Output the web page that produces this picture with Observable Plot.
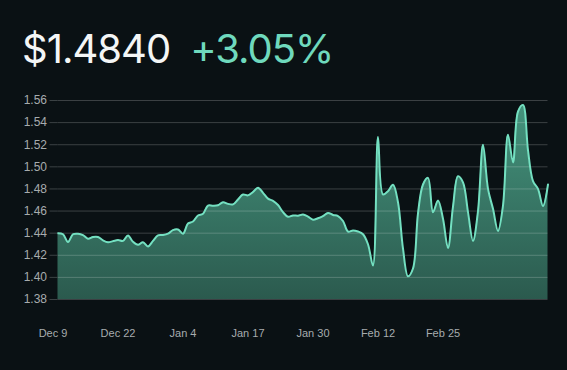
<!DOCTYPE html>
<html><head><meta charset="utf-8">
<script src="https://cdn.jsdelivr.net/npm/d3@7"></script>
<script src="https://cdn.jsdelivr.net/npm/@observablehq/plot@0.6"></script>
<style>
html,body{margin:0;padding:0;background:#0a1114;}
#wrap{position:relative;width:567px;height:370px;overflow:hidden;background:#0a1114;}
#title{position:absolute;left:22px;top:29px;font-family:Inter,"Noto Sans",sans-serif;font-size:40px;line-height:40px;letter-spacing:-1px;white-space:nowrap;}
#price{color:#f4f6f6;}
#change{color:#6fd9bd;margin-left:20px;}
svg{display:block;}
</style></head>
<body>
<div id="wrap"><div id="title"><span id="price"></span><span id="change"></span></div></div>
<script>
const headlinePrice = "$1.4840";
const headlineChange = "+3.05%";
const startDate = "2024-12-10";
const prices = [
 1.4400,1.4390,1.4320,1.4390,1.4395,1.4383,1.4350,1.4365,1.4365,1.4335,
 1.4318,1.4328,1.4338,1.4330,1.4380,1.4322,1.4295,1.4318,1.4280,1.4330,
 1.4380,1.4383,1.4395,1.4428,1.4433,1.4395,1.4487,1.4505,1.4560,1.4575,
 1.4650,1.4648,1.4652,1.4680,1.4665,1.4660,1.4705,1.4750,1.4742,1.4772,
 1.4810,1.4765,1.4712,1.4693,1.4655,1.4590,1.4548,1.4560,1.4558,1.4568,
 1.4550,1.4522,1.4535,1.4555,1.4583,1.4565,1.4555,1.4510,1.4415,1.4425,
 1.4415,1.4390,1.4300,1.4108,1.5270,1.4750,1.4780,1.4838,1.4680,1.4260,
 1.4010,1.4080,1.4580,1.4840,1.4900,1.4590,1.4695,1.4530,1.4265,1.4640,
 1.4915,1.4860,1.4590,1.4330,1.4600,1.5200,1.4800,1.4620,1.4420,1.4650,
 1.5290,1.5040,1.5500,1.5560,1.5150,1.4870,1.4800,1.4645,1.4840
];
const yTicks = [1.38,1.40,1.42,1.44,1.46,1.48,1.50,1.52,1.54,1.56];
const xTickDates = ["2024-12-09","2024-12-22","2025-01-04","2025-01-17","2025-01-30","2025-02-12","2025-02-25"];

document.getElementById("price").textContent = headlinePrice;
document.getElementById("change").textContent = headlineChange;

const start = new Date(startDate + "T00:00:00Z");
const data = prices.map((p, i) => ({date: d3.utcDay.offset(start, i), price: p}));
const xTicks = xTickDates.map(s => new Date(s + "T00:00:00Z"));
const yMin = yTicks[0];

const chart = Plot.plot({
  width: 567,
  height: 370,
  marginTop: 100,
  marginBottom: 71,
  marginLeft: 57.5,
  marginRight: 19.5,
  style: {background: "transparent", fontFamily: "'Liberation Sans', Arial, sans-serif"},
  x: {type: "utc", domain: [data[0].date, data[data.length - 1].date]},
  y: {domain: [yTicks[0], yTicks[yTicks.length - 1]]},
  marks: [
    Plot.areaY(data, {x: "date", y1: yMin, y2: "price", fill: "url(#areaGrad)", curve: "catmull-rom"}),
    Plot.gridY(yTicks, {stroke: "#ffffff", strokeOpacity: 0.2, strokeWidth: 1}),
    Plot.lineY(data, {x: "date", y: "price", stroke: "#74e0c1", strokeWidth: 2, curve: "catmull-rom"}),
    Plot.axisY(yTicks, {tickSize: 8, tickPadding: 3, tickFormat: d3.format(".2f"), stroke: "#3b4244", fill: "#a7acae", fontSize: 12, label: null}),
    Plot.axisX(xTicks, {tickSize: 0, tickPadding: 29.5, tickFormat: d3.utcFormat("%b %-d"), fill: "#a7acae", fontSize: 11, label: null})
  ]
});

const svg = d3.select(chart);
const defs = svg.insert("defs", ":first-child");
const g = defs.append("linearGradient").attr("id", "areaGrad")
  .attr("gradientUnits", "userSpaceOnUse").attr("x1", 0).attr("x2", 0).attr("y1", 100).attr("y2", 299);
g.append("stop").attr("offset", "0%").attr("stop-color", "#45957e");
g.append("stop").attr("offset", "100%").attr("stop-color", "#2b5a4e");

document.getElementById("wrap").appendChild(chart);
</script>
</body></html>
